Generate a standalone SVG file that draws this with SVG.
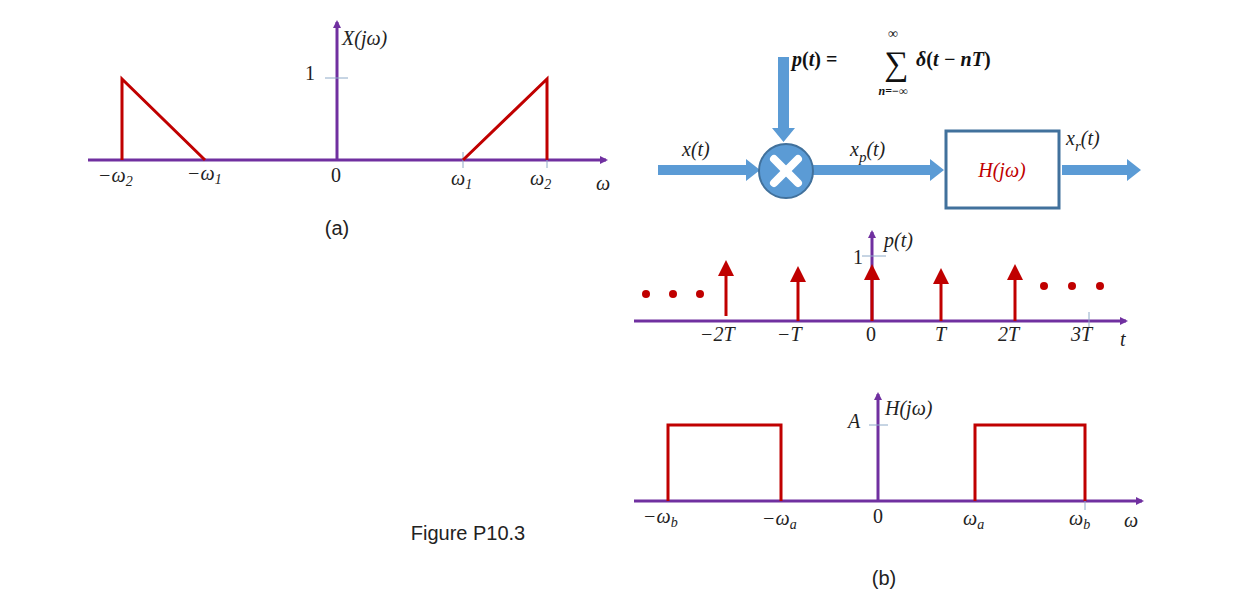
<svg xmlns="http://www.w3.org/2000/svg" width="1240" height="598" viewBox="0 0 1240 598">
<style>
.ax{stroke:#7030a0;stroke-width:3;fill:none}
.sig{stroke:#c00000;stroke-width:3;fill:none}
.tk{stroke:#8eaac8;stroke-width:1}
.m{font-family:"Liberation Serif",serif;font-style:italic;font-size:20px;fill:#222}
.n{font-family:"Liberation Serif",serif;font-size:20px;fill:#222}
.s{font-family:"Liberation Sans",sans-serif;font-size:20px;fill:#222}
.bl{fill:#5b9bd5}
</style>
<defs>
<marker id="pa" markerWidth="8" markerHeight="8" refX="6" refY="4" orient="auto" markerUnits="userSpaceOnUse"><path d="M0,0L8,4L0,8z" fill="#7030a0"/></marker>
<marker id="ra" markerWidth="16" markerHeight="16" refX="8" refY="8" orient="auto" markerUnits="userSpaceOnUse"><path d="M0,0L16,8L0,16z" fill="#c00000"/></marker>
</defs>
<g id="panel-a">
<line class="ax" x1="88" y1="160" x2="606" y2="160" marker-end="url(#pa)"/>
<line class="ax" x1="337" y1="160" x2="337" y2="22" marker-end="url(#pa)"/>
<line class="tk" x1="325" y1="78" x2="348" y2="78"/>
<line class="tk" x1="463" y1="152" x2="463" y2="168"/>
<line class="tk" x1="547" y1="160" x2="547" y2="168"/>
<polyline class="sig" points="122,160 122,79 205,160"/>
<polyline class="sig" points="463,160 547,79 547,160"/>
<text class="m" x="342" y="45">X(jω)</text>
<text class="n" x="305" y="80">1</text>
<text class="m" x="98" y="182">−ω<tspan font-size="14" dy="4">2</tspan></text>
<text class="m" x="187" y="180">−ω<tspan font-size="14" dy="4">1</tspan></text>
<text class="n" x="331" y="182">0</text>
<text class="m" x="451" y="185">ω<tspan font-size="14" dy="4">1</tspan></text>
<text class="m" x="530" y="185">ω<tspan font-size="14" dy="4">2</tspan></text>
<text class="m" x="596" y="190" font-size="15">ω</text>
<text class="s" x="337" y="235" text-anchor="middle">(a)</text>
</g>
<g id="connectors">
<path class="bl" d="M658,165H746V159L760,170L746,181V175H658z"/>
<path class="bl" d="M778,57H789V128H795L783.5,142L772,128H778z"/>
<path class="bl" d="M812,165H930V159L944,170L930,181V175H812z"/>
<path class="bl" d="M1062,165H1127V159L1141,170L1127,181V175H1062z"/>
</g>
<g id="multiplier">
<circle cx="786" cy="171" r="27" fill="#5b9bd5" stroke="#41719c" stroke-width="2"/>
<path d="M774,159L786,171L798,159M774,183L786,171L798,183" stroke="#fff" stroke-width="8" stroke-linecap="round" fill="none"/>
</g>
<g id="filter">
<rect x="946" y="131" width="113" height="77" fill="#fff" stroke="#41719c" stroke-width="3"/>
<text class="m" x="1002" y="177" text-anchor="middle" fill="#c00000" style="fill:#c00000">H(jω)</text>
</g>
<g id="labels-b">
<text class="m" x="682" y="156" font-size="22">x(t)</text>
<text class="m" x="850" y="156" font-size="22">x<tspan font-size="15" dy="6">p</tspan><tspan dy="-6">(t)</tspan></text>
<text class="m" x="1066" y="145" font-size="22">x<tspan font-size="15" dy="6">r</tspan><tspan dy="-6">(t)</tspan></text>
<text x="792" y="66" font-family="Liberation Serif,serif" font-weight="bold" font-size="20" fill="#111"><tspan font-style="italic">p</tspan>(<tspan font-style="italic">t</tspan>) =</text>
<text x="884" y="75" font-family="Liberation Serif,serif" font-size="34" fill="#111">∑</text>
<text x="893" y="38" font-family="Liberation Serif,serif" font-size="14" fill="#111" text-anchor="middle">∞</text>
<text x="893" y="95" font-family="Liberation Serif,serif" font-size="12" font-weight="bold" fill="#111" text-anchor="middle"><tspan font-style="italic">n</tspan>=−∞</text>
<text x="916" y="66" font-family="Liberation Serif,serif" font-weight="bold" font-style="italic" font-size="20" fill="#111">δ<tspan font-style="normal">(</tspan>t − nT<tspan font-style="normal">)</tspan></text>
</g>
<g id="panel-p">
<line class="ax" x1="634" y1="321" x2="1126" y2="321" marker-end="url(#pa)"/>
<line class="ax" x1="872" y1="321" x2="872" y2="232" marker-end="url(#pa)"/>
<line class="tk" x1="862" y1="256" x2="886" y2="256"/>
<line class="tk" x1="1089" y1="312" x2="1089" y2="328"/>
<g class="sig">
<line x1="726" y1="316" x2="726" y2="268" marker-end="url(#ra)"/>
<line x1="798" y1="321" x2="798" y2="274" marker-end="url(#ra)"/>
<line x1="872" y1="321" x2="872" y2="272" marker-end="url(#ra)"/>
<line x1="941" y1="321" x2="941" y2="276" marker-end="url(#ra)"/>
<line x1="1015" y1="321" x2="1015" y2="272" marker-end="url(#ra)"/>
</g>
<g fill="#c00000">
<circle cx="646" cy="294" r="4"/><circle cx="673" cy="294" r="4"/><circle cx="700" cy="294" r="4"/>
<circle cx="1044" cy="286" r="4"/><circle cx="1072" cy="286" r="4"/><circle cx="1100" cy="286" r="4"/>
</g>
<text class="m" x="884" y="247">p(t)</text>
<text class="n" x="853" y="264">1</text>
<text class="m" x="700" y="341">−2T</text>
<text class="m" x="777" y="341">−T</text>
<text class="n" x="866" y="341">0</text>
<text class="m" x="935" y="341">T</text>
<text class="m" x="998" y="341">2T</text>
<text class="m" x="1071" y="341">3T</text>
<text class="m" x="1120" y="346">t</text>
</g>
<g id="panel-h">
<line class="ax" x1="634" y1="501" x2="1142" y2="501" marker-end="url(#pa)"/>
<line class="ax" x1="878" y1="501" x2="878" y2="394" marker-end="url(#pa)"/>
<line class="tk" x1="869" y1="425" x2="888" y2="425"/>
<line class="tk" x1="1085" y1="501" x2="1085" y2="510"/>
<polyline class="sig" points="668,501 668,425 781,425 781,501"/>
<polyline class="sig" points="975,501 975,425 1085,425 1085,501"/>
<text class="m" x="885" y="415">H(jω)</text>
<text class="m" x="848" y="428">A</text>
<text class="m" x="643" y="523">−ω<tspan font-size="14" dy="4">b</tspan></text>
<text class="m" x="762" y="525">−ω<tspan font-size="14" dy="4">a</tspan></text>
<text class="n" x="873" y="523">0</text>
<text class="m" x="963" y="525">ω<tspan font-size="14" dy="4">a</tspan></text>
<text class="m" x="1069" y="525">ω<tspan font-size="14" dy="4">b</tspan></text>
<text class="m" x="1124" y="527" font-size="16">ω</text>
<text class="s" x="884" y="585" text-anchor="middle">(b)</text>
<text class="s" x="468" y="540" text-anchor="middle">Figure P10.3</text>
</g>
</svg>
